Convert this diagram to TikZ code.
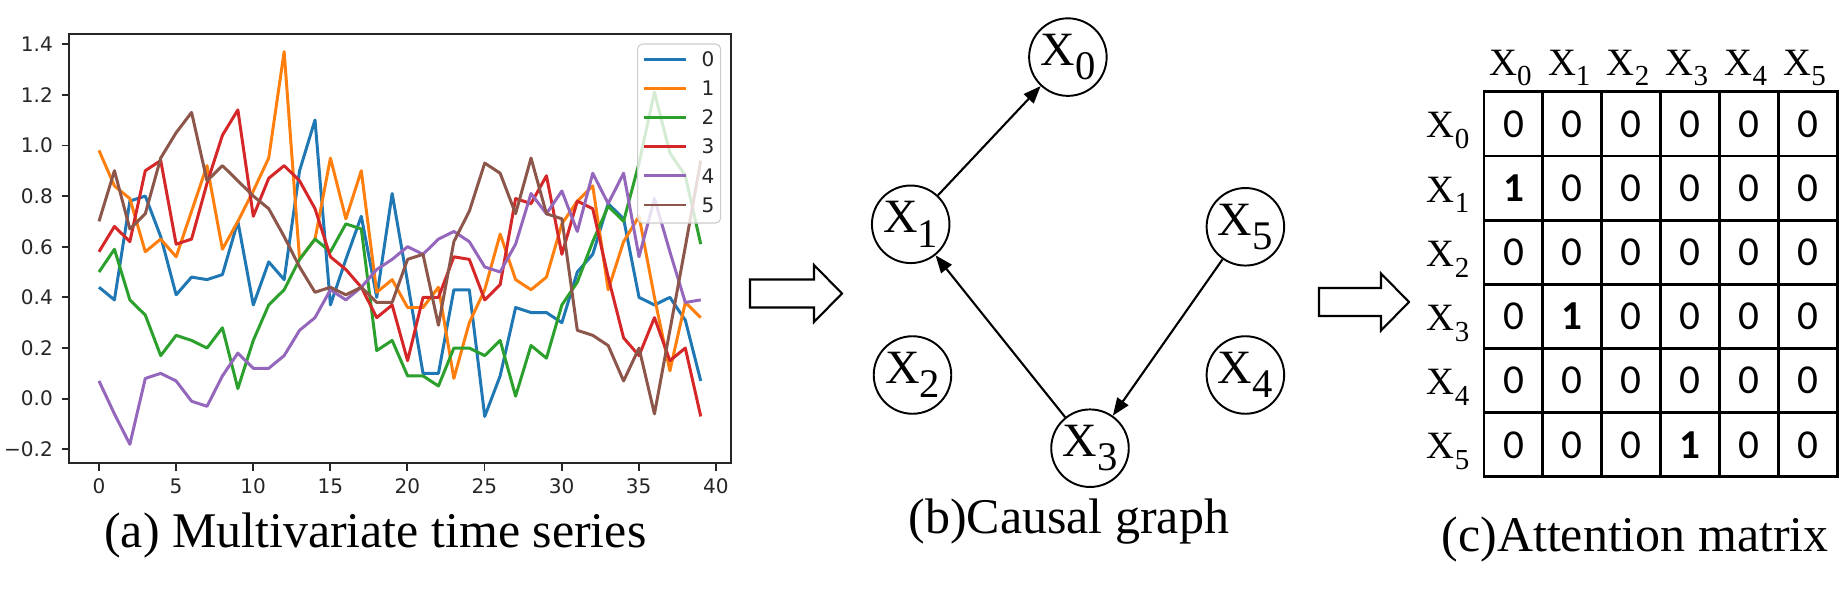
\documentclass[tikz,border=0pt]{standalone}
\usepackage{fontspec}
\usepackage{graphicx}
\setmainfont{Liberation Serif}
\newfontfamily\dejavu{DejaVu Sans}
\newfontfamily\calib{Carlito}
\usetikzlibrary{arrows.meta}
\definecolor{c0}{HTML}{1F77B4}
\definecolor{c1}{HTML}{FF7F0E}
\definecolor{c2}{HTML}{2CA02C}
\definecolor{c3}{HTML}{D62728}
\definecolor{c4}{HTML}{9467BD}
\definecolor{c5}{HTML}{8C564B}
\newcommand\Xsub[1]{X\raisebox{-0.28em}{\scalebox{0.75}{#1}}}
\newcommand\Xbig[1]{X\raisebox{-0.3em}{\scalebox{0.85}{#1}}}
\newcommand\plotseries[2]{%
  \gdef\serlist{}%
  \foreach \v [count=\i from 0] in {#2}{\xdef\serlist{\serlist(\i,\v)}}%
  \edef\serdraw{\noexpand\draw[sline,#1] plot coordinates {\serlist};}%
  \serdraw}
\begin{document}
\begin{tikzpicture}[x=0.01cm,y=-0.01cm,
  sline/.style={line width=0.85pt, line join=round},
  spine/.style={line width=0.55pt, draw=black!85},
  tickmark/.style={line width=0.55pt, draw=black!85},
  ticklab/.style={font=\dejavu\fontsize{5.7}{6}\selectfont, inner sep=0pt, text=black!85},
  varnode/.style={circle, draw, line width=0.55pt, minimum size=0.775cm, inner sep=0pt, font=\fontsize{13.6}{15}\selectfont},
  causal/.style={-{Triangle[length=5pt,width=3.8pt]}, line width=0.6pt},
  blockarrow/.style={draw, line width=0.6pt, fill=white, line join=miter},
  captext/.style={font=\fontsize{14.2}{17}\selectfont, inner sep=0pt, anchor=base west},
  hdr/.style={font=\fontsize{11}{13}\selectfont, inner sep=0pt},
  cellbox/.style={draw, line width=0.8pt, minimum width=0.5885cm, minimum height=0.6418cm, inner sep=0pt, font=\calib\fontsize{11.7}{13}\selectfont}
]
\useasboundingbox (0,0) rectangle (1844,612);

% ---------- (a) time series ----------
\begin{scope}[shift={(99,398.7)}, x=0.1542cm, y=2.532cm]
\plotseries{c0}{0.44,0.39,0.78,0.80,0.64,0.41,0.48,0.47,0.49,0.70,0.37,0.54,0.47,0.90,1.10,0.37,0.55,0.72,0.40,0.81,0.46,0.10,0.10,0.43,0.43,-0.07,0.09,0.36,0.34,0.34,0.30,0.50,0.57,0.77,0.71,0.40,0.37,0.40,0.31,0.07}
\plotseries{c1}{0.98,0.84,0.79,0.58,0.63,0.56,0.74,0.92,0.59,0.70,0.82,0.95,1.37,0.55,0.63,0.95,0.71,0.90,0.42,0.47,0.36,0.36,0.44,0.08,0.30,0.43,0.65,0.47,0.43,0.48,0.69,0.78,0.84,0.43,0.62,0.72,0.40,0.11,0.38,0.32}
\plotseries{c2}{0.50,0.59,0.39,0.33,0.17,0.25,0.23,0.20,0.28,0.04,0.23,0.37,0.43,0.55,0.63,0.58,0.69,0.67,0.19,0.23,0.09,0.09,0.05,0.20,0.20,0.17,0.23,0.01,0.21,0.16,0.37,0.46,0.62,0.76,0.70,0.93,1.21,0.97,0.88,0.61}
\plotseries{c3}{0.58,0.68,0.62,0.90,0.94,0.61,0.63,0.85,1.04,1.14,0.72,0.87,0.92,0.86,0.75,0.56,0.51,0.44,0.32,0.37,0.15,0.40,0.40,0.56,0.55,0.39,0.45,0.79,0.77,0.88,0.57,0.78,0.75,0.48,0.24,0.17,0.32,0.15,0.20,-0.07}
\plotseries{c4}{0.07,-0.06,-0.18,0.08,0.10,0.07,-0.01,-0.03,0.09,0.18,0.12,0.12,0.17,0.27,0.32,0.43,0.39,0.44,0.51,0.55,0.60,0.57,0.63,0.66,0.62,0.52,0.50,0.61,0.81,0.73,0.82,0.66,0.89,0.77,0.89,0.56,0.79,0.58,0.38,0.39}
\plotseries{c5}{0.70,0.90,0.67,0.73,0.95,1.05,1.13,0.86,0.92,0.86,0.80,0.75,0.64,0.52,0.42,0.44,0.41,0.44,0.38,0.38,0.55,0.57,0.29,0.62,0.74,0.93,0.89,0.73,0.95,0.73,0.71,0.27,0.25,0.21,0.07,0.20,-0.06,0.27,0.60,0.94}
\end{scope}

\draw[spine] (69,34) rectangle (730.7,463.3);
\foreach \t [count=\k] in {0,5,...,40}{
  \draw[tickmark] ({99+15.42*\t},463.3) -- ({99+15.42*\t},470.6);
  \node[ticklab, name=xl\k] at ({99+15.42*\t},486) {\t};
}
\foreach \v/\lab [count=\k] in {-0.2/−0.2,0/0.0,0.2/0.2,0.4/0.4,0.6/0.6,0.8/0.8,1.0/1.0,1.2/1.2,1.4/1.4}{
  \draw[tickmark] (61.7,{398.7-253.2*\v}) -- (69,{398.7-253.2*\v});
  \node[ticklab, anchor=east, name=yl\k] at (53.5,{398.7-253.2*\v}) {\lab};
}
% legend
\draw[draw=black!20, line width=0.3pt, fill=white, fill opacity=0.8, rounded corners=0.5mm] (637.7,44) rectangle (720.7,223);
\foreach \c/\yy [count=\k from 0] in {c0/59.3,c1/88.3,c2/117.3,c3/146.7,c4/175.7,c5/205}{
  \draw[sline,\c] (644,\yy) -- (686,\yy);
  \node[ticklab, anchor=west, name=lg\k] at (701,\yy) {\k};
}
\node[captext] (capa) at (103.5,547) {(a) Multivariate time series};

% ---------- block arrows ----------
\draw[blockarrow] (750,279.5) -- (814,279.5) -- (814,265) -- (842,293.5) -- (814,322) -- (814,307.5) -- (750,307.5) -- cycle;
\draw[blockarrow] (1319,288) -- (1381,288) -- (1381,273.5) -- (1409,302) -- (1381,330.5) -- (1381,316) -- (1319,316) -- cycle;

% ---------- (b) causal graph ----------
\node[varnode] (x0) at (1067.9,57.1) {\Xbig{0}};
\node[varnode] (x1) at (910.7,224.3) {\Xbig{1}};
\node[varnode] (x5) at (1245.4,226.8) {\Xbig{5}};
\node[varnode] (x2) at (912.5,375) {\Xbig{2}};
\node[varnode] (x4) at (1245.4,375) {\Xbig{4}};
\node[varnode] (x3) at (1090,448.2) {\Xbig{3}};
\draw[causal] (x1) -- (x0);
\draw[causal] (x3) -- (x1);
\draw[causal] (x5) -- (x3);
\node[captext] (capb) at (908,533) {(b)Causal graph};

% ---------- (c) attention matrix ----------
\foreach \r in {0,...,5}{
  \foreach \c in {0,...,5}{
    \def\val{0}%
    \ifnum\r\c=10 \def\val{\textbf{1}}\fi
    \ifnum\r\c=31 \def\val{\textbf{1}}\fi
    \ifnum\r\c=53 \def\val{\textbf{1}}\fi
    \node[cellbox] (m\r\c) at ({1484+58.85*(\c+0.5)},{91.8+64.18*(\r+0.5)}) {\val};
  }
  \node[hdr, anchor=base east] (r\r) at (1470,{91.8+64.18*(\r+0.5)+14}) {\Xsub{\r}};
  \node[hdr, anchor=base] (h\r) at ({1484+58.85*(\r+0.5)-3},75) {\Xsub{\r}};
}
\node[captext] (capc) at (1441,551) {(c)Attention matrix};
\end{tikzpicture}
\end{document}
